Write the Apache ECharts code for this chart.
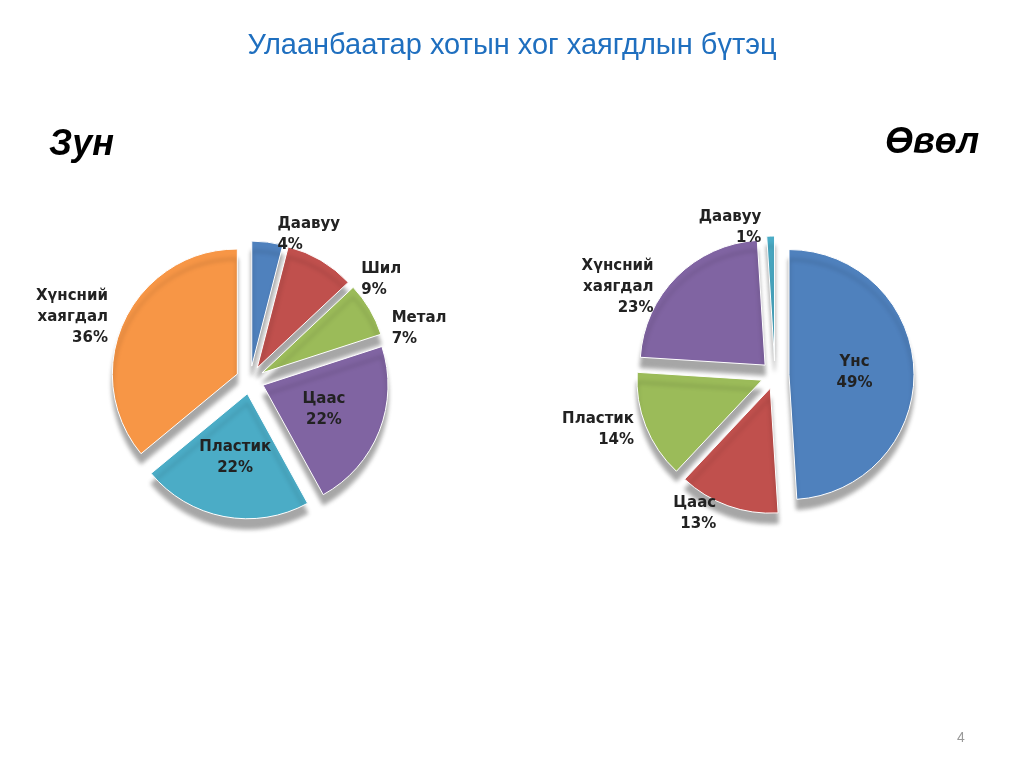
<!DOCTYPE html>
<html><head><meta charset="utf-8">
<script src="https://cdn.jsdelivr.net/npm/echarts@6/dist/echarts.min.js"></script>
<style>html,body{margin:0;background:#fff}#c{width:1024px;height:768px}</style>
</head><body><div id="c"></div>
<script>
// summer (Зун)
var summerNames = ["Даавуу", "Шил", "Метал", "Цаас", "Пластик", "Хүнсний\nхаягдал"];
var summerValues = [4, 9, 7, 22, 22, 36];
var summerColors = ["#4f81bd", "#c0504d", "#9bbb59", "#8064a2", "#4bacc6", "#f79646"];
var summerInside = [false, false, false, true, true, false];
// winter (Өвөл)
var winterNames = ["Үнс", "Цаас", "Пластик", "Хүнсний\nхаягдал", "Даавуу"];
var winterValues = [49, 13, 14, 23, 1];
var winterColors = ["#4f81bd", "#c0504d", "#9bbb59", "#8064a2", "#4bacc6"];
var winterInside = [true, false, false, false, false];

function build(names, values, colors, inside) {
  var d = [];
  for (var i = 0; i < names.length; i++) {
    d.push({
      name: names[i], value: values[i], selected: true,
      itemStyle: { color: colors[i], borderColor: "#fff", borderWidth: 1,
        shadowColor: "rgba(0,0,0,0.35)", shadowOffsetY: 10, shadowBlur: 4 },
      label: { position: inside[i] ? "inner" : "outside" },
      labelLine: { show: false }
    });
  }
  return d;
}

var chart = echarts.init(document.getElementById("c"));
var labelStyle = {
  formatter: "{b}\n{c}%", color: "#222", fontSize: 15, fontWeight: "bold",
  fontFamily: "DejaVu Sans", lineHeight: 21, align: "center"
};
chart.setOption({
  backgroundColor: "#fff",
  title: [
    { text: "Улаанбаатар хотын хог хаягдлын бүтэц", left: "center", top: 26,
      textStyle: { color: "#1f6fbf", fontSize: 29, fontWeight: "normal", fontFamily: "Liberation Sans" } },
    { text: "Зун", left: 44, top: 122,
      textStyle: { color: "#000", fontSize: 36, fontWeight: "bold", fontStyle: "italic", fontFamily: "Liberation Sans" } },
    { text: "Өвөл", left: 880, top: 120,
      textStyle: { color: "#000", fontSize: 36, fontWeight: "bold", fontStyle: "italic", fontFamily: "Liberation Sans" } },
    { text: "4", left: 952, top: 726, textStyle: { color: "#999", fontSize: 14, fontWeight: "normal" } }
  ],
  series: [
    { type: "pie", center: [250, 380], radius: 125, startAngle: 90, clockwise: true,
      selectedMode: "multiple", selectedOffset: 14, animation: false,
      label: labelStyle, labelLine: { show: false, length: 8, length2: 4 },
      data: build(summerNames, summerValues, summerColors, summerInside) },
    { type: "pie", center: [775, 375], radius: 125, startAngle: 90, clockwise: true,
      selectedMode: "multiple", selectedOffset: 14, animation: false,
      label: labelStyle, labelLine: { show: false, length: 8, length2: 4 },
      data: build(winterNames, winterValues, winterColors, winterInside) }
  ]
});
</script></body></html>
